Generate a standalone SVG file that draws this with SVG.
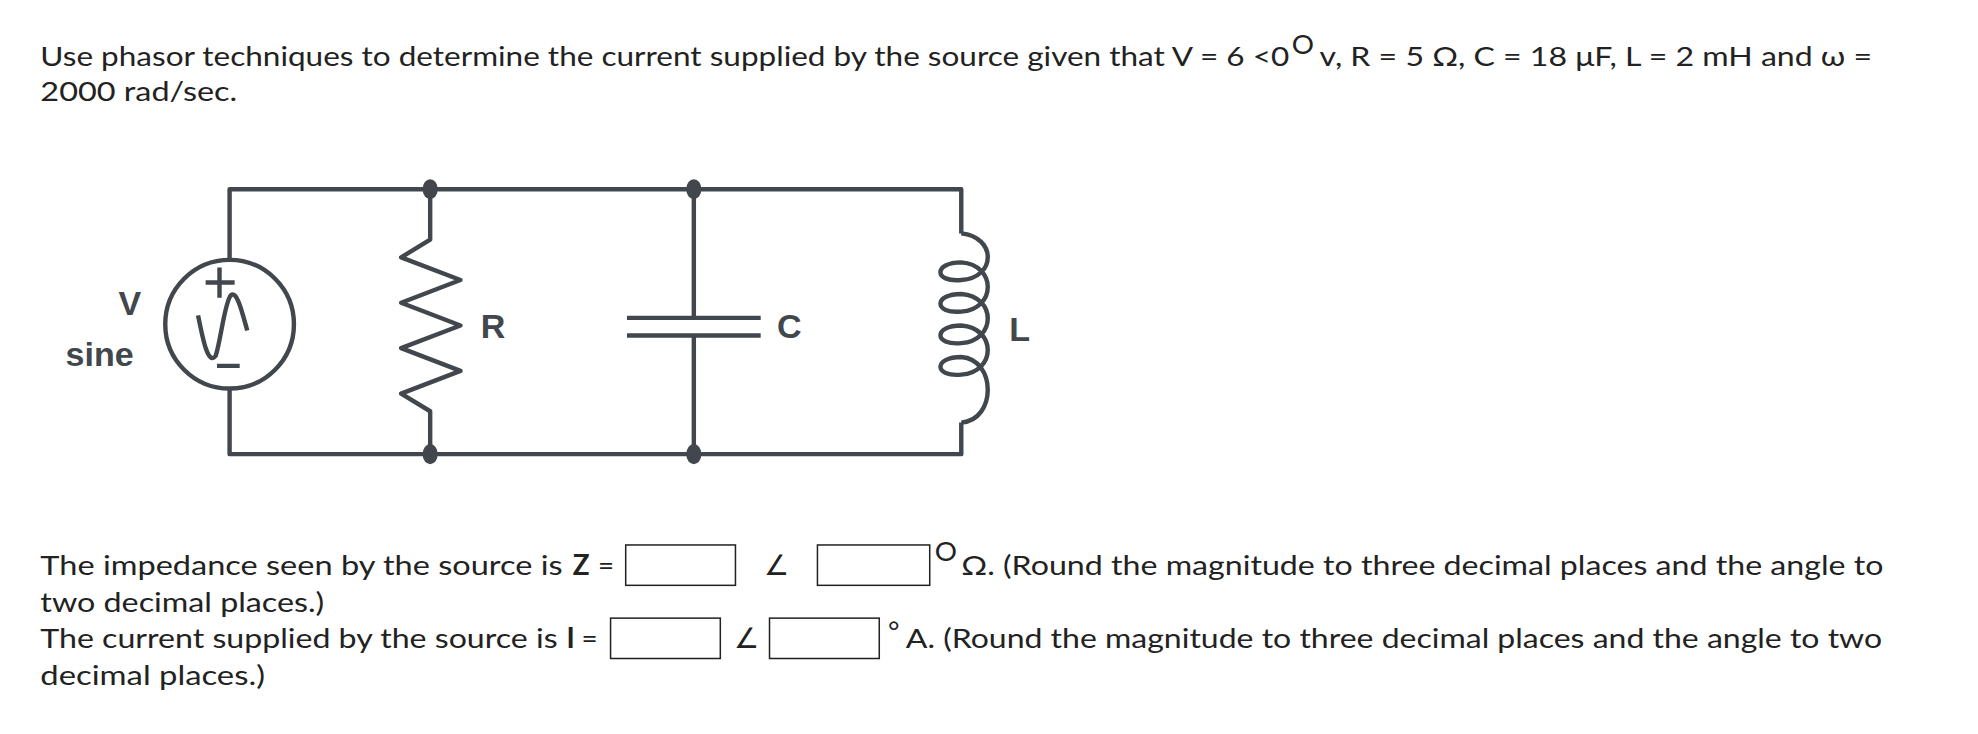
<svg xmlns="http://www.w3.org/2000/svg" width="1978" height="734" viewBox="0 0 1978 734">
<style>
.t{font-family:Lato,"Open Sans",sans-serif;font-size:22px;fill:#222}
.w{fill:none;stroke:#41474c;stroke-width:3.5;stroke-linejoin:round}
.lb{font-family:"Liberation Sans",Arial,sans-serif;font-weight:bold;font-size:27px;fill:#41474c}
.bx{fill:#fff;stroke:#222;stroke-width:1.2}
</style>
<rect width="1978" height="734" fill="#fff"/>
<g transform="scale(1.2615)">
<g id="question">
<text class="t" x="32" y="52" textLength="990" lengthAdjust="spacingAndGlyphs">Use phasor techniques to determine the current supplied by the source given that V = 6 &lt;0</text>
<text class="t" x="1024" y="43" font-size="16">O</text>
<text class="t" x="1046" y="52" textLength="438" lengthAdjust="spacingAndGlyphs">v, R = 5 Ω, C = 18 μF, L = 2 mH and ω =</text>
<text class="t" x="32" y="80" textLength="156" lengthAdjust="spacingAndGlyphs">2000 rad/sec.</text>
</g>
<g id="connectors">
<path class="w" d="M182 206 V150 H762 V185 M762 335 V360 H182 V308"/>
<path class="w" d="M341 150 V190 L318 204 L365 222 L318 240 L365 258 L318 276 L365 294 L318 312 L341 326 V360"/>
<path class="w" d="M550 150 V252 M497 252 H603 M497 266 H603 M550 266 V360"/>
<path class="w" d="M762 185 C790 188 790 220 762 222 C740 224 740 208 762 208 C790 210 790 245 762 247 C740 249 740 233 762 233 C790 235 790 270 762 272 C740 274 740 258 762 258 C790 260 790 295 762 297 C740 299 740 283 762 283 C790 285 790 333 762 335"/>
<ellipse cx="341" cy="150" rx="6" ry="8" fill="#41474c"/>
<ellipse cx="550" cy="150" rx="6" ry="8" fill="#41474c"/>
<ellipse cx="341" cy="360" rx="6" ry="8" fill="#41474c"/>
<ellipse cx="550" cy="360" rx="6" ry="8" fill="#41474c"/>
</g>
<g id="source">
<circle class="w" cx="182" cy="257" r="51"/>
<path class="w" stroke-width="2.5" d="M174 212 V236 M163 224 H186 M172 290 H190"/>
<path class="w" stroke-width="2.5" d="M157 250 C161 270 165 290 171 282 C175 270 178 240 183 234 C188 230 192 248 196 262"/>
<text class="lb" x="94" y="250">V</text>
<text class="lb" x="52" y="290">sine</text>
</g>
<g id="R"><text class="lb" x="381" y="268">R</text></g>
<g id="C"><text class="lb" x="616" y="268">C</text></g>
<g id="L"><text class="lb" x="800" y="270">L</text></g>
<g id="answers">
<text class="t" x="32" y="456" textLength="414" lengthAdjust="spacingAndGlyphs">The impedance seen by the source is</text>
<text class="t" x="454" y="456" font-weight="bold">Z</text>
<text class="t" x="474" y="456">=</text>
<rect class="bx" x="496" y="432" width="87" height="32"/>
<text class="t" x="606" y="456">∠</text>
<rect class="bx" x="648" y="432" width="89" height="32"/>
<text class="t" x="741" y="445" font-size="15">O</text>
<text class="t" x="762" y="456" textLength="731" lengthAdjust="spacingAndGlyphs">Ω. (Round the magnitude to three decimal places and the angle to</text>
<text class="t" x="32" y="485" textLength="225" lengthAdjust="spacingAndGlyphs">two decimal places.)</text>
<text class="t" x="32" y="514" textLength="410" lengthAdjust="spacingAndGlyphs">The current supplied by the source is</text>
<text class="t" x="449" y="514" font-weight="bold">I</text>
<text class="t" x="461" y="514">=</text>
<rect class="bx" x="484" y="490" width="87" height="32"/>
<text class="t" x="582" y="514">∠</text>
<rect class="bx" x="610" y="490" width="87" height="32"/>
<text class="t" x="704" y="508" font-size="16">°</text>
<text class="t" x="718" y="514" textLength="774" lengthAdjust="spacingAndGlyphs">A. (Round the magnitude to three decimal places and the angle to two</text>
<text class="t" x="32" y="543" textLength="178" lengthAdjust="spacingAndGlyphs">decimal places.)</text>
</g>
</g>
</svg>
